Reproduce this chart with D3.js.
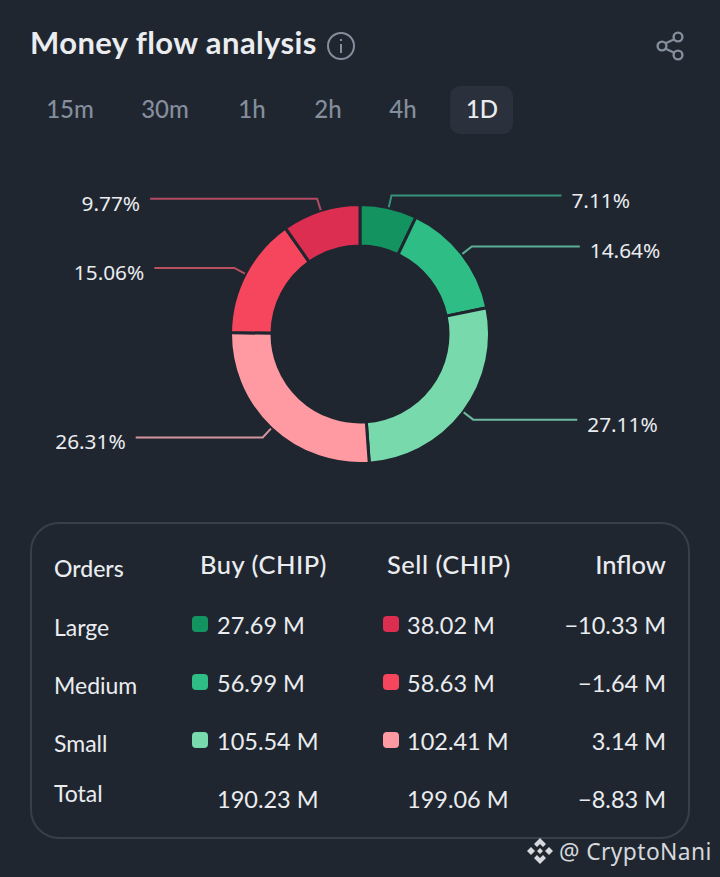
<!DOCTYPE html>
<html>
<head>
<meta charset="utf-8">
<script src="https://cdn.jsdelivr.net/npm/d3@7"></script>
<style>
  html, body { margin: 0; padding: 0; background: #1f2630; }
  svg { display: block; }
  text { font-family: Lato, "Open Sans", sans-serif; }
  text.noto { font-family: "Noto Sans", sans-serif; }
</style>
</head>
<body>
<div class="canva"></div>
<script>
// chart values
const intervals = ["15m", "30m", "1h", "2h", "4h", "1D"];
const activeInterval = "1D";
const sliceNames = ["Buy large", "Buy medium", "Buy small", "Sell small", "Sell medium", "Sell large"];
const slicePercents = [7.11, 14.64, 27.11, 26.31, 15.06, 9.77];
const orderNames = ["Large", "Medium", "Small", "Total"];
const buyValues = ["27.69 M", "56.99 M", "105.54 M", "190.23 M"];
const sellValues = ["38.02 M", "58.63 M", "102.41 M", "199.06 M"];
const inflowValues = ["\u221210.33 M", "\u22121.64 M", "3.14 M", "\u22128.83 M"];

// styles and layout, by slice
const sliceColors = ["#12935f", "#2ebd85", "#78d9ac", "#ff9aa2", "#f6465d", "#dc2e50"];
const lineColors = ["#38917a", "#5cae96", "#6db9a0", "#d6969e", "#b8505f", "#b24a60"];
const leaderLength = [170, 108, 104, 127, 80, 167];
const buySwatch = [0, 1, 2];
const sellSwatch = [5, 4, 3];

const width = 720, height = 877;
const svg = d3.select(".canva").append("svg")
  .attr("width", width)
  .attr("height", height);

// header
svg.append("text").attr("x", 30).attr("y", 54)
  .attr("font-size", 31).attr("font-weight", 700).attr("fill", "#eaecef")
  .attr("letter-spacing", 0.4)
  .text("Money flow analysis");

const info = svg.append("g").attr("transform", "translate(341,46)")
  .attr("fill", "none").attr("stroke", "#848e9c").attr("stroke-width", 2);
info.append("circle").attr("r", 13);
info.append("path").attr("d", "M0,-2V7M0,-7V-5");

const share = svg.append("g").attr("transform", "translate(670,46)")
  .attr("fill", "none").attr("stroke", "#848e9c").attr("stroke-width", 2.4);
share.append("path").attr("d", "M-6,-2L7,-8M-6,2L7,8");
share.selectAll("circle").data([[-8, 0], [8, -9], [8, 9]]).enter().append("circle")
  .attr("cx", d => d[0]).attr("cy", d => d[1]).attr("r", 4.4)
  .attr("fill", "#1f2630");

// interval tabs
const tabCenters = [70, 165, 252, 328, 403, 482];
const tabs = svg.selectAll(".tab").data(intervals).enter().append("g").attr("class", "tab")
  .attr("transform", (d, i) => `translate(${tabCenters[i]},110)`);
tabs.filter(d => d === activeInterval).append("rect")
  .attr("x", -32).attr("y", -24).attr("width", 63).attr("height", 48).attr("rx", 10)
  .attr("fill", "#2b313c");
tabs.append("text")
  .attr("text-anchor", "middle").attr("dy", 8).attr("font-size", 24).attr("font-weight", 500)
  .attr("fill", d => d === activeInterval ? "#eaecef" : "#848e9c")
  .text(d => d);

// donut
const cx = 360, cy = 334;
const pie = d3.pie().sort(null).value(d => d);
const arcs = pie(slicePercents);
const ring = d3.arc().innerRadius(88).outerRadius(129.5);
const donut = svg.append("g").attr("transform", `translate(${cx},${cy})`);

donut.selectAll("path.slice").data(arcs).enter().append("path").attr("class", "slice")
  .attr("d", ring)
  .attr("fill", (d, i) => sliceColors[i])
  .attr("stroke", "#1f2630").attr("stroke-width", 3)
  .append("title").text((d, i) => sliceNames[i]);

// leader lines and percent labels, worked out from the slice angles
const startArc = d3.arc().innerRadius(130).outerRadius(130);
const elbowArc = d3.arc().innerRadius(142).outerRadius(142);

arcs.forEach((a, i) => {
  const p0 = startArc.centroid(a), p1 = elbowArc.centroid(a);
  const dir = p1[0] > 0 ? 1 : -1;
  const endX = p1[0] + dir * leaderLength[i];
  donut.append("path")
    .attr("d", d3.line()([p0, p1, [endX, p1[1]]]))
    .attr("fill", "none").attr("stroke", lineColors[i]).attr("stroke-width", 2);
  donut.append("text").attr("class", "noto")
    .attr("x", endX + dir * 10).attr("y", p1[1] + 12)
    .attr("text-anchor", dir > 0 ? "start" : "end")
    .attr("font-size", 20.8).attr("fill", "#eaecef")
    .text(slicePercents[i].toFixed(2) + "%");
});

// table
svg.append("rect").attr("x", 31).attr("y", 523).attr("width", 658).attr("height", 315).attr("rx", 28)
  .attr("fill", "none").attr("stroke", "#383f4a").attr("stroke-width", 2);

const header = (x, y, anchor, size, spacing, label) => svg.append("text")
  .attr("x", x).attr("y", y).attr("text-anchor", anchor)
  .attr("font-size", size).attr("font-weight", 500).attr("fill", "#eaecef")
  .attr("letter-spacing", spacing).text(label);
header(54, 577, "start", 23, 0, "Orders");
header(200, 574, "start", 25.5, 0.5, "Buy (CHIP)");
header(387, 574, "start", 25.5, 0.5, "Sell (CHIP)");
header(666, 574, "end", 25.5, 0, "Inflow");

const rowY = d3.scalePoint().domain(orderNames).range([634, 808]);
const labelY = [636, 694, 752, 802];

svg.selectAll(".order").data(orderNames).enter().append("text").attr("class", "order")
  .attr("x", 54).attr("y", (d, i) => labelY[i])
  .attr("font-size", 23).attr("fill", "#eaecef").text(d => d);

const column = (values, x, anchor) => svg.selectAll(null).data(values).enter().append("text")
  .attr("x", x).attr("y", (d, i) => rowY(orderNames[i]))
  .attr("text-anchor", anchor)
  .attr("font-size", 23.5).attr("fill", "#eaecef").text(d => d);
column(buyValues, 217, "start");
column(sellValues, 407, "start");
column(inflowValues, 666, "end");

const swatches = (idx, x) => svg.selectAll(null).data(idx).enter().append("rect")
  .attr("x", x).attr("y", (d, i) => rowY(orderNames[i]) - 18)
  .attr("width", 16).attr("height", 16).attr("rx", 4)
  .attr("fill", d => sliceColors[d]);
swatches(buySwatch, 192);
swatches(sellSwatch, 383);

// watermark
const mark = svg.append("g").attr("transform", "translate(540,851)").attr("fill", "#d5d8dc");
mark.append("path").attr("d", "M0,-13L6,-7L3,-4L0,-7L-3,-4L-6,-7ZM0,13L6,7L3,4L0,7L-3,4L-6,7ZM-13,0L-9,-4L-5,0L-9,4ZM13,0L9,-4L5,0L9,4ZM0,-3L3,0L0,3L-3,0Z");
svg.append("text").attr("class", "noto").attr("x", 559).attr("y", 860)
  .attr("font-size", 22.8).attr("fill", "#d5d8dc")
  .attr("letter-spacing", 0.4)
  .text("@ CryptoNani");
</script>
</body>
</html>
